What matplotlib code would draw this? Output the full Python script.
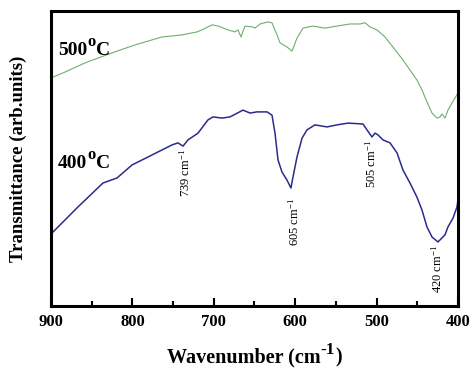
"""
FTIR spectra of the sample annealed at 400 and 500 C.
"""

import matplotlib
matplotlib.use('Agg')
import matplotlib.pyplot as plt
from matplotlib.ticker import MultipleLocator

plt.rcParams['font.family'] = ['Liberation Serif', 'DejaVu Serif']
plt.rcParams['mathtext.fontset'] = 'custom'
plt.rcParams['mathtext.rm'] = 'Liberation Serif'
plt.rcParams['mathtext.it'] = 'Liberation Serif:italic'
plt.rcParams['mathtext.bf'] = 'Liberation Serif:bold'

# 500 C spectrum (wavenumber, transmittance in arb. units)
wn_500 = [900, 897.5, 882.8, 858.2, 825.1, 796.8, 763.6, 739.1, 720.6, 714.5,
          702.2, 694.8, 682.6, 674.0, 670.3, 666.6, 661.7, 652.0, 649.4, 643.2,
          633.4, 628.5, 622.3, 618.7, 610.1, 603.9, 597.8, 590.4, 578.1, 563.4,
          548.6, 532.7, 520.4, 514.2, 508.1, 499.5, 489.7, 479.9, 467.6, 459.0,
          450.4, 444.2, 438.1, 431.9, 425.8, 422.1, 419.6, 416.0, 412.3, 407.4,
          403.7, 400]
t_500 = [77.3, 77.6, 79.3, 82.4, 85.8, 88.5, 91.2, 91.9, 92.9, 93.6,
         95.3, 94.9, 93.6, 92.9, 93.6, 91.2, 94.9, 94.6, 94.2, 95.6,
         96.3, 96.0, 91.9, 89.2, 87.8, 86.4, 90.8, 94.2, 94.9, 94.2,
         94.9, 95.6, 95.6, 96.0, 94.6, 93.6, 91.2, 87.8, 83.4, 80.0,
         76.6, 73.2, 69.2, 65.4, 63.7, 64.1, 65.1, 63.7, 66.4, 68.8,
         70.5, 72.2]

# 400 C spectrum
wn_400 = [900, 897.5, 866.8, 836.1, 818.9, 800.5, 775.9, 751.4, 744.0, 737.8,
          731.7, 719.4, 707.1, 701.0, 689.9, 680.1, 664.1, 655.5, 646.9, 634.6,
          628.5, 624.8, 621.1, 616.2, 610.1, 605.2, 602.7, 597.8, 591.6, 585.5,
          575.7, 560.9, 548.6, 535.1, 516.7, 511.8, 505.7, 502.0, 498.3, 492.1,
          483.5, 474.9, 467.6, 459.0, 450.4, 444.2, 438.1, 431.9, 424.6, 419.6,
          416.0, 412.3, 406.1, 401.2, 400]
t_400 = [24.7, 25.1, 33.6, 41.7, 43.4, 47.8, 51.2, 54.6, 55.3, 54.2,
         56.3, 58.6, 63.1, 64.1, 63.7, 64.1, 66.4, 65.4, 65.8, 65.8,
         64.7, 58.6, 49.5, 45.4, 42.7, 40.0, 43.7, 50.5, 56.9, 59.7,
         61.4, 60.7, 61.4, 62.0, 61.7, 59.7, 57.3, 58.6, 58.0, 56.3,
         55.3, 51.9, 46.1, 41.7, 36.9, 32.5, 26.8, 23.4, 21.7, 23.1,
         24.1, 26.8, 29.8, 33.6, 35.9]

# band labels: text, x position, top of text
band_labels = ['739 cm$^{-1}$', '605 cm$^{-1}$', '505 cm$^{-1}$', '420 cm$^{-1}$']
band_x = [735.5, 601.5, 507.0, 425.5]
band_top = [53.2, 36.8, 56.3, 20.7]

fig = plt.figure(figsize=(4.74, 3.69), dpi=100)
ax = fig.add_axes([0.1076, 0.1707, 0.8586, 0.7995])
renderer = fig.canvas.get_renderer()


def rich_text(x, y, pieces, xycoords, center=False):
    # pieces: (string, fontsize, raise in pixels); drawn left to right
    arts = []
    dx = 0
    for s, size, rise in pieces:
        t = ax.annotate(s, xy=(x, y), xycoords=xycoords, xytext=(dx, rise),
                        textcoords='offset pixels', fontsize=size,
                        fontweight='bold', va='baseline', ha='left',
                        annotation_clip=False)
        dx += t.get_window_extent(renderer).width
        arts.append(t)
    if center:
        for t in arts:
            ox, oy = t.xyann
            t.xyann = (ox - dx / 2, oy)


ax.plot(wn_500, t_500, color='#6fae6f', lw=0.8)
ax.plot(wn_400, t_400, color='#2b2b8e', lw=1.1)

ax.set_xlim(900, 400)
ax.set_ylim(0, 100)

# curve labels
rich_text(891.4, 85.1, [('500', 14, 0), ('o', 12, 9), ('C', 14, 0)], 'data')
rich_text(891.4, 46.8, [('400', 14, 0), ('o', 12, 9), ('C', 14, 0)], 'data')

for lab, x, y in zip(band_labels, band_x, band_top):
    ax.text(x, y, lab, rotation=90, fontsize=9, ha='center', va='top')

# axes styling
for sp in ax.spines.values():
    sp.set_linewidth(2.2)
ax.xaxis.set_major_locator(MultipleLocator(100))
ax.xaxis.set_minor_locator(MultipleLocator(50))
ax.tick_params(axis='x', which='major', direction='in', length=5.8, width=1.5,
               labelsize=12, pad=6)
ax.tick_params(axis='x', which='minor', direction='in', length=3.6, width=1.5)
ax.set_yticks([])
for lbl in ax.get_xticklabels():
    lbl.set_fontweight('bold')

# x label with a large raised -1
rich_text(0.5, -0.19, [('Wavenumber (cm', 14.5, 0), ('-1', 12.5, 8), (')', 14.5, 0)],
          'axes fraction', center=True)
ax.set_ylabel('Transmittance (arb.units)', fontsize=13.5, fontweight='bold',
              labelpad=17)

plt.savefig('out.png', dpi=100)
